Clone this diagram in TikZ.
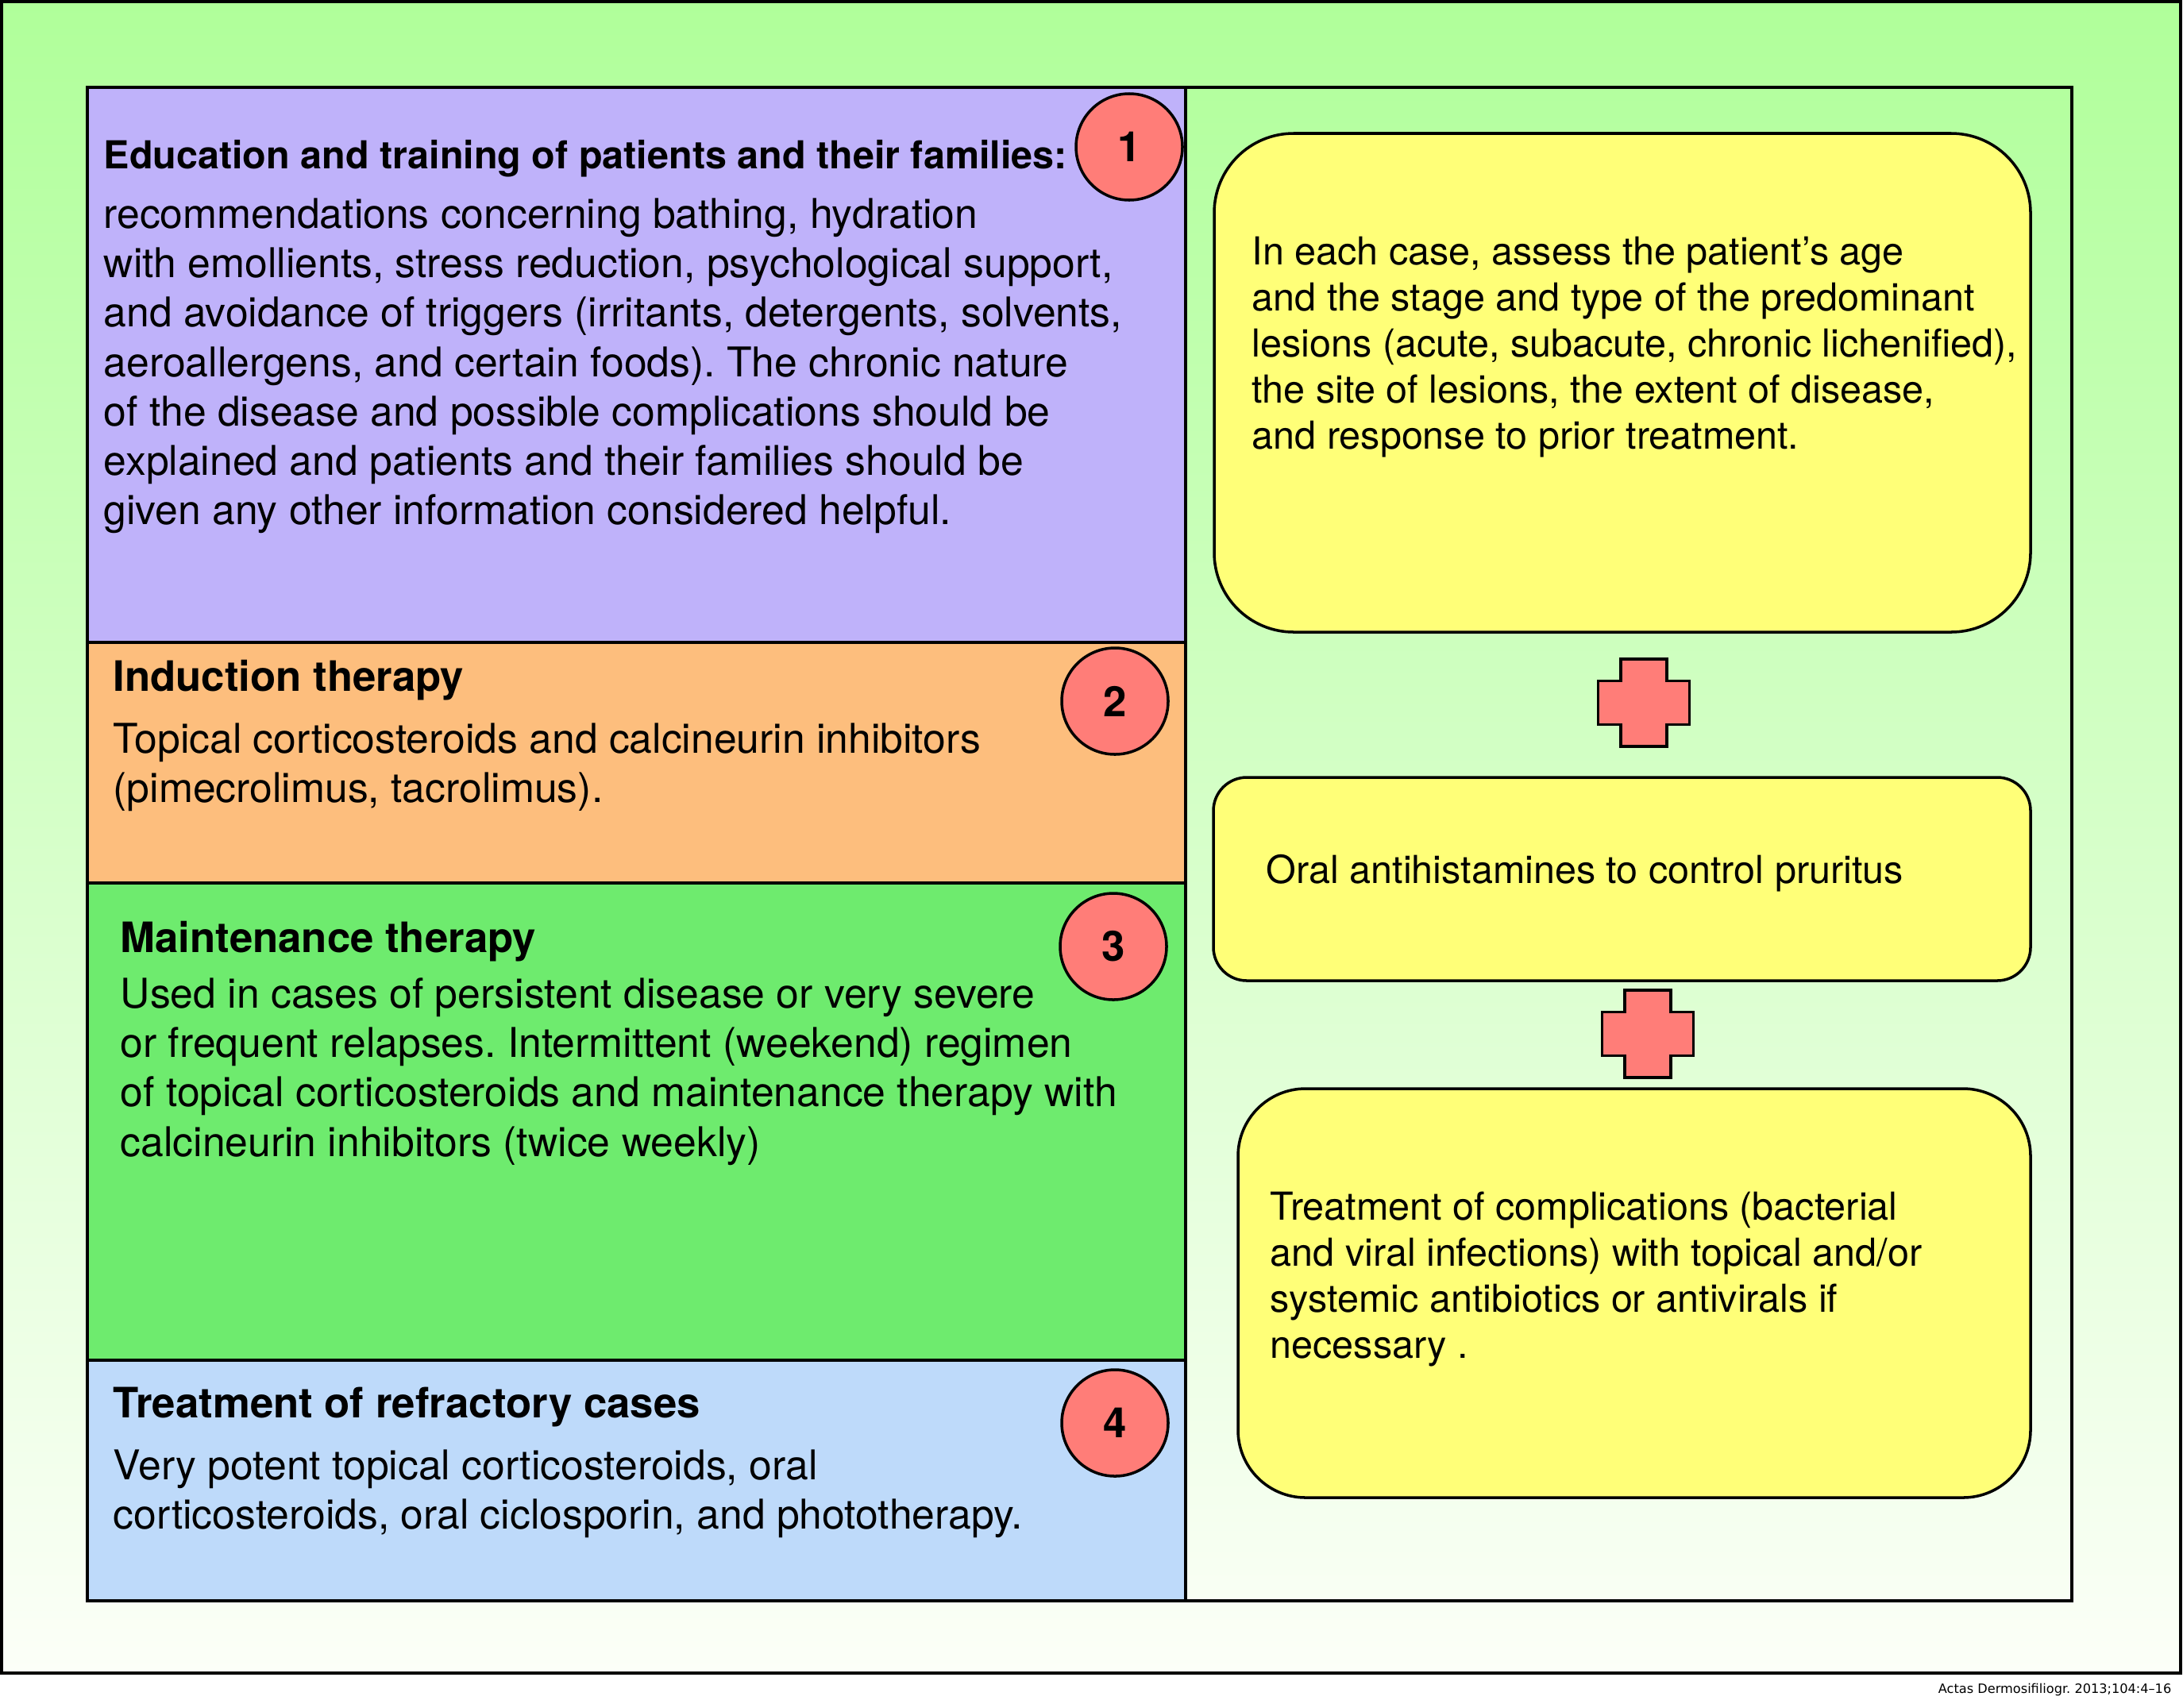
\documentclass[tikz,border=0pt]{standalone}
\usepackage{fontspec}
\setmainfont{TeX Gyre Heros}
\newfontfamily\citefont{DejaVu Sans}
\usetikzlibrary{positioning}
\frenchspacing

\definecolor{bgGreen}{RGB}{176,255,154}
\definecolor{bgWhite}{RGB}{252,255,248}
\definecolor{eduPurple}{RGB}{191,178,250}
\definecolor{indOrange}{RGB}{253,190,125}
\definecolor{maintGreen}{RGB}{110,235,110}
\definecolor{refrBlue}{RGB}{190,218,250}
\definecolor{noteYellow}{RGB}{255,255,120}
\definecolor{markRed}{RGB}{255,125,120}

\begin{document}
\begin{tikzpicture}[
    leftbox/.style = {draw, line width=1.1pt, rectangle, anchor=north west, inner sep=0pt, outer sep=0pt, minimum width=13.83cm},
    notebox/.style = {draw, line width=1pt, fill=noteYellow, anchor=north west, inner sep=0pt, outer sep=0pt},
    num/.style = {draw, circle, line width=1pt, fill=markRed, minimum size=1.34cm, inner sep=0pt, font=\fontsize{15}{18}\selectfont\bfseries},
    head/.style = {anchor=north west, inner sep=0pt, font=\fontsize{15}{18}\selectfont\bfseries},
    body/.style = {anchor=north west, inner sep=0pt, align=left, font=\fontsize{14.7}{17.7}\selectfont},
    note/.style = {anchor=north west, inner sep=0pt, align=left, font=\fontsize{13.8}{16.5}\selectfont},
    plussign/.style = {draw, line width=1pt, fill=markRed}
]
\useasboundingbox (0,0) rectangle (27.49,-21.50);

% background and frame
\draw[line width=1.1pt, top color=bgGreen, bottom color=bgWhite] (0.02,-0.02) rectangle (27.46,-21.07);
\node[anchor=east, inner sep=0pt, font=\citefont\fontsize{4.6}{5}\selectfont] (cite) at (27.35,-21.28) {Actas Dermosifiliogr. 2013;104:4–16};
\node[draw, line width=1.1pt, anchor=north west, inner sep=0pt, outer sep=0pt, minimum width=24.99cm, minimum height=19.06cm] (frame) at (1.10,-1.10) {};

% left column
\node[leftbox, fill=eduPurple, minimum height=6.99cm] (edu) at (1.10,-1.10) {};
\node[leftbox, fill=indOrange, minimum height=3.03cm, below=0pt of edu] (ind) {};
\node[leftbox, fill=maintGreen, minimum height=6.01cm, below=0pt of ind] (maint) {};
\node[leftbox, fill=refrBlue, minimum height=3.03cm, below=0pt of maint] (refr) {};

\node[head, font=\fontsize{13.8}{16.5}\selectfont\bfseries, below right=0.66cm and 0.20cm of edu.north west] (eduhead) {Education and training of patients and their families:};
\node[body, below right=1.39cm and 0.20cm of edu.north west] (edutext) {recommendations concerning bathing, hydration\\
with emollients, stress reduction, psychological support,\\
and avoidance of triggers (irritants, detergents, solvents,\\
aeroallergens, and certain foods). The chronic nature\\
of the disease and possible complications should be\\
explained and patients and their families should be\\
given any other information considered helpful.};

\node[head, below right=0.21cm and 0.32cm of ind.north west] (indhead) {Induction therapy};
\node[body, below right=1.01cm and 0.32cm of ind.north west] (indtext) {Topical corticosteroids and calcineurin inhibitors\\
(pimecrolimus, tacrolimus).};

\node[head, below right=0.47cm and 0.41cm of maint.north west] (mainthead) {Maintenance therapy};
\node[body, below right=1.19cm and 0.41cm of maint.north west] (mainttext) {Used in cases of persistent disease or very severe\\
or frequent relapses. Intermittent (weekend) regimen\\
of topical corticosteroids and maintenance therapy with\\
calcineurin inhibitors (twice weekly)};

\node[head, below right=0.33cm and 0.32cm of refr.north west] (refrhead) {Treatment of refractory cases};
\node[body, below right=1.12cm and 0.32cm of refr.north west] (refrtext) {Very potent topical corticosteroids, oral\\
corticosteroids, oral ciclosporin, and phototherapy.};

\node[num] (n1) at (14.22,-1.85) {1};
\node[num] (n2) at (14.04,-8.83) {2};
\node[num] (n3) at (14.02,-11.92) {3};
\node[num] (n4) at (14.04,-17.92) {4};

% right column
\node[notebox, rounded corners=1cm, minimum width=10.28cm, minimum height=6.28cm] (assess) at (15.29,-1.68) {};
\node[notebox, rounded corners=0.42cm, minimum width=10.29cm, minimum height=2.56cm] (antihist) at (15.28,-9.79) {};
\node[notebox, rounded corners=0.85cm, minimum width=9.98cm, minimum height=5.15cm] (compl) at (15.59,-13.71) {};

\node[note, below right=1.29cm and 0.47cm of assess.north west] (assesstext) {In each case, assess the patient’s age\\
and the stage and type of the predominant\\
lesions (acute, subacute, chronic lichenified),\\
the site of lesions, the extent of disease,\\
and response to prior treatment.};
\node[note, below right=0.97cm and 0.66cm of antihist.north west] (antihisttext) {Oral antihistamines to control pruritus};
\node[note, below right=1.29cm and 0.40cm of compl.north west] (compltext) {Treatment of complications (bacterial\\
and viral infections) with topical and/or\\
systemic antibiotics or antivirals if\\
necessary .};

\foreach \pos in {(20.70,-8.85),(20.75,-13.02)}
    \draw[plussign] \pos ++(-0.29,0.55) -- ++(0.58,0) -- ++(0,-0.275) -- ++(0.285,0) -- ++(0,-0.55) -- ++(-0.285,0) -- ++(0,-0.275) -- ++(-0.58,0) -- ++(0,0.275) -- ++(-0.285,0) -- ++(0,0.55) -- ++(0.285,0) -- cycle;
\end{tikzpicture}
\end{document}
